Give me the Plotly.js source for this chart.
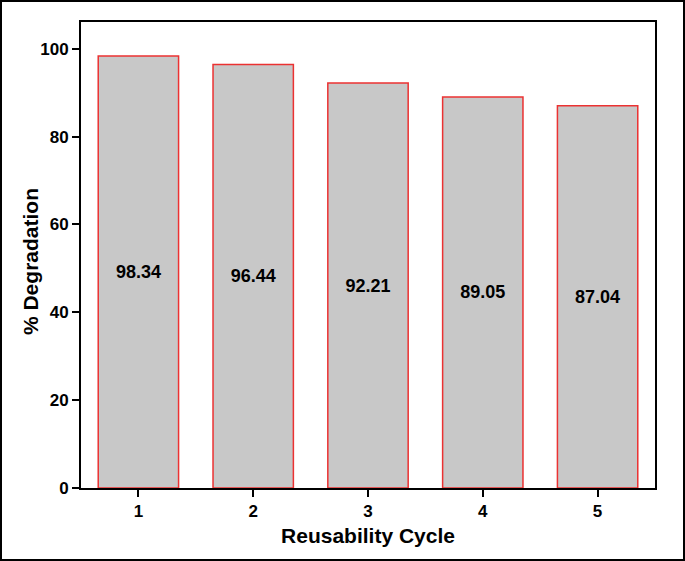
<!DOCTYPE html>
<html>
<head>
<meta charset="utf-8">
<script src="https://cdn.plot.ly/plotly-3.0.1.min.js"></script>
<style>
html,body{margin:0;padding:0;background:#fff;}
#wrap{width:685px;height:561px;box-sizing:border-box;border:2px solid #000;background:#fff;}
#chart{width:681px;height:557px;}
</style>
</head>
<body>
<div id="wrap"><div id="chart"></div></div>
<script>
const cycles = [1, 2, 3, 4, 5];
const degradation = [98.34, 96.44, 92.21, 89.05, 87.04];
const yTicks = [0, 20, 40, 60, 80, 100];
const xTitle = 'Reusability Cycle';
const yTitle = '% Degradation';

const trace = {
  type: 'bar',
  x: cycles,
  y: degradation,
  width: 0.7,
  text: degradation.map(v => v.toFixed(2)),
  textposition: 'inside',
  insidetextanchor: 'middle',
  textangle: 0,
  textfont: {family: 'Liberation Sans, Arial, sans-serif', size: 18, color: '#000', weight: 'bold'},
  marker: {color: 'rgb(200,200,200)', line: {color: 'rgb(235,50,50)', width: 1.5}},
  hoverinfo: 'none'
};

const axisFont = {family: 'Liberation Sans, Arial, sans-serif', size: 17, color: '#000', weight: 'bold'};
const titleFont = {family: 'Liberation Sans, Arial, sans-serif', size: 21, color: '#000', weight: 'bold'};

const layout = {
  width: 681, height: 557,
  margin: {l: 79, r: 28, t: 20, b: 71},
  paper_bgcolor: '#fff', plot_bgcolor: '#fff',
  showlegend: false,
  bargap: 0.3,
  xaxis: {
    range: [0.5, 5.5],
    tickvals: cycles,
    ticktext: cycles.map(String),
    ticks: 'outside', ticklen: 7, tickwidth: 2, tickcolor: '#000',
    showline: true, linecolor: '#000', linewidth: 2, mirror: true,
    showgrid: false, zeroline: false,
    tickfont: axisFont,
    title: {text: xTitle, font: titleFont, standoff: 8}
  },
  yaxis: {
    range: [0, 106.1],
    tickvals: yTicks,
    ticks: 'outside', ticklen: 7, tickwidth: 2, tickcolor: '#000',
    showline: true, linecolor: '#000', linewidth: 2, mirror: true,
    showgrid: false, zeroline: false,
    tickfont: axisFont
  },
  annotations: [{
    text: yTitle, font: titleFont, textangle: -90,
    xref: 'paper', yref: 'paper', x: -0.087, y: 0.485,
    xanchor: 'center', yanchor: 'middle', showarrow: false
  }]
};

Plotly.newPlot('chart', [trace], layout, {displayModeBar: false, staticPlot: true});
</script>
</body>
</html>
